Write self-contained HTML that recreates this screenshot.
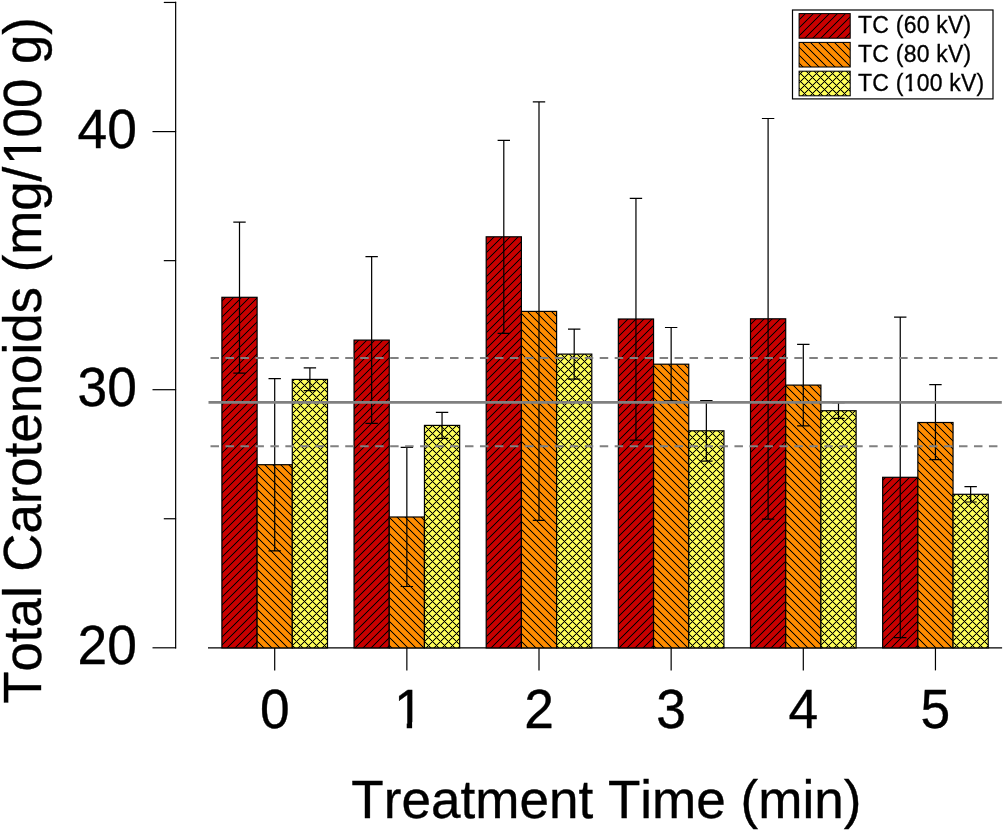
<!DOCTYPE html>
<html lang="en"><head><meta charset="utf-8"><title>Total Carotenoids</title>
<style>html,body{margin:0;padding:0;background:#fff}svg{display:block}text{font-kerning:none;font-family:"Liberation Sans",Arial,sans-serif;fill:#000}</style></head><body>
<svg width="1004" height="831" viewBox="0 0 1004 831">
<defs>
<pattern id="pr" width="8" height="8" patternUnits="userSpaceOnUse"><rect width="8" height="8" fill="#c80000"/><path d="M-1 4L4 -1M2 9L9 2" stroke="#000" stroke-width="1.5" stroke-opacity="0.35" fill="none"/><g fill="#000" shape-rendering="crispEdges"><rect x="2" y="0" width="1" height="1"/><rect x="1" y="1" width="1" height="1"/><rect x="0" y="2" width="1" height="1"/><rect x="7" y="3" width="1" height="1"/><rect x="6" y="4" width="1" height="1"/><rect x="5" y="5" width="1" height="1"/><rect x="4" y="6" width="1" height="1"/><rect x="3" y="7" width="1" height="1"/></g></pattern>
<pattern id="po" width="8" height="8" patternUnits="userSpaceOnUse"><rect width="8" height="8" fill="#ff8c00"/><path d="M-1 -1L9 9M7 -1L9 1M-1 7L1 9" stroke="#000" stroke-width="1.5" stroke-opacity="0.35" fill="none"/><g fill="#000" shape-rendering="crispEdges"><rect x="0" y="0" width="1" height="1"/><rect x="1" y="1" width="1" height="1"/><rect x="2" y="2" width="1" height="1"/><rect x="3" y="3" width="1" height="1"/><rect x="4" y="4" width="1" height="1"/><rect x="5" y="5" width="1" height="1"/><rect x="6" y="6" width="1" height="1"/><rect x="7" y="7" width="1" height="1"/></g></pattern>
<pattern id="py" width="8" height="8" patternUnits="userSpaceOnUse"><rect width="8" height="8" fill="#ffff5a"/><path d="M-1 3L3 -1M1 9L9 1M-1 0L8 9M6 -1L9 2" stroke="#000" stroke-width="1.5" stroke-opacity="0.35" fill="none"/><g fill="#000" shape-rendering="crispEdges"><rect x="1" y="0" width="1" height="1"/><rect x="7" y="0" width="1" height="1"/><rect x="0" y="1" width="1" height="1"/><rect x="1" y="2" width="1" height="1"/><rect x="7" y="2" width="1" height="1"/><rect x="2" y="3" width="1" height="1"/><rect x="6" y="3" width="1" height="1"/><rect x="3" y="4" width="1" height="1"/><rect x="5" y="4" width="1" height="1"/><rect x="4" y="5" width="1" height="1"/><rect x="3" y="6" width="1" height="1"/><rect x="5" y="6" width="1" height="1"/><rect x="2" y="7" width="1" height="1"/><rect x="6" y="7" width="1" height="1"/></g></pattern>
</defs>
<rect width="1004" height="831" fill="#fff"/>
<g stroke="#000" stroke-width="1.2" fill="none">
<path d="M175.65 1.8V648.50"/>
<path d="M152.5 131.6H176.1"/>
<path d="M152.5 389.7H176.1"/>
<path d="M152.5 647.8H176.1"/>
<path d="M163.8 2.45H176.1"/>
<path d="M163.8 260.65H176.1"/>
<path d="M163.8 518.75H176.1"/>
<path d="M208 647.9H1002.1"/>
<path d="M274.70 647.9V670.4"/>
<path d="M406.85 647.9V670.4"/>
<path d="M539.00 647.9V670.4"/>
<path d="M671.15 647.9V670.4"/>
<path d="M803.30 647.9V670.4"/>
<path d="M935.45 647.9V670.4"/>
</g>
<g stroke="#000" stroke-width="1.2">
<rect x="221.90" y="297.3" width="35.2" height="350.60" fill="url(#pr)"/>
<rect x="257.10" y="464.7" width="35.2" height="183.20" fill="url(#po)"/>
<rect x="292.30" y="379.4" width="35.2" height="268.50" fill="url(#py)"/>
<rect x="354.05" y="340.1" width="35.2" height="307.80" fill="url(#pr)"/>
<rect x="389.25" y="517.0" width="35.2" height="130.90" fill="url(#po)"/>
<rect x="424.45" y="425.4" width="35.2" height="222.50" fill="url(#py)"/>
<rect x="486.20" y="236.8" width="35.2" height="411.10" fill="url(#pr)"/>
<rect x="521.40" y="311.4" width="35.2" height="336.50" fill="url(#po)"/>
<rect x="556.60" y="354.1" width="35.2" height="293.80" fill="url(#py)"/>
<rect x="618.35" y="319.0" width="35.2" height="328.90" fill="url(#pr)"/>
<rect x="653.55" y="364.2" width="35.2" height="283.70" fill="url(#po)"/>
<rect x="688.75" y="430.8" width="35.2" height="217.10" fill="url(#py)"/>
<rect x="750.50" y="318.8" width="35.2" height="329.10" fill="url(#pr)"/>
<rect x="785.70" y="385.1" width="35.2" height="262.80" fill="url(#po)"/>
<rect x="820.90" y="410.7" width="35.2" height="237.20" fill="url(#py)"/>
<rect x="882.65" y="477.3" width="35.2" height="170.60" fill="url(#pr)"/>
<rect x="917.85" y="422.5" width="35.2" height="225.40" fill="url(#po)"/>
<rect x="953.05" y="494.3" width="35.2" height="153.60" fill="url(#py)"/>
</g>
<g stroke="#000" stroke-width="1.22" fill="none">
<path d="M239.50 222.1V373.2M233.30 222.1H245.70M233.30 373.2H245.70"/>
<path d="M274.70 378.7V550.9M268.50 378.7H280.90M268.50 550.9H280.90"/>
<path d="M309.90 367.8V390.6M303.70 367.8H316.10M303.70 390.6H316.10"/>
<path d="M371.65 256.7V423.4M365.45 256.7H377.85M365.45 423.4H377.85"/>
<path d="M406.85 447.3V586.5M400.65 447.3H413.05M400.65 586.5H413.05"/>
<path d="M442.05 412.3V438.3M435.85 412.3H448.25M435.85 438.3H448.25"/>
<path d="M503.80 140.3V333.3M497.60 140.3H510.00M497.60 333.3H510.00"/>
<path d="M539.00 101.9V520.4M532.80 101.9H545.20M532.80 520.4H545.20"/>
<path d="M574.20 329.2V379.1M568.00 329.2H580.40M568.00 379.1H580.40"/>
<path d="M635.95 198.3V440.1M629.75 198.3H642.15M629.75 440.1H642.15"/>
<path d="M671.15 327.5V400.9M664.95 327.5H677.35M664.95 400.9H677.35"/>
<path d="M706.35 400.6V461.2M700.15 400.6H712.55M700.15 461.2H712.55"/>
<path d="M768.10 118.5V519.1M761.90 118.5H774.30M761.90 519.1H774.30"/>
<path d="M803.30 344.4V425.8M797.10 344.4H809.50M797.10 425.8H809.50"/>
<path d="M838.50 402.7V418.3M832.30 402.7H844.70M832.30 418.3H844.70"/>
<path d="M900.25 317.1V637.6M894.05 317.1H906.45M894.05 637.6H906.45"/>
<path d="M935.45 384.6V459.6M929.25 384.6H941.65M929.25 459.6H941.65"/>
<path d="M970.65 486.6V502.0M964.45 486.6H976.85M964.45 502.0H976.85"/>
</g>
<path d="M208.5 402.35H1001.8" stroke="#808080" stroke-width="2.67" fill="none"/>
<path d="M210.5 357.9H1001" stroke="#808080" stroke-width="2" stroke-dasharray="8.5 6.47" fill="none"/>
<path d="M210.5 446.3H1001" stroke="#808080" stroke-width="2" stroke-dasharray="8.5 6.47" fill="none"/>
<g font-size="53.33px" stroke="#000" stroke-width="0.35">
<text transform="translate(136.8 147.7) scale(1 1.04)" text-anchor="end">40</text>
<text transform="translate(136.8 405.8) scale(1 1.04)" text-anchor="end">30</text>
<text transform="translate(136.8 663.9) scale(1 1.04)" text-anchor="end">20</text>
<text transform="translate(274.80 727.6) scale(1 1.04)" text-anchor="middle">0</text>
<text transform="translate(408.72 727.6) scale(1 1.04)" text-anchor="middle">1</text>
<path d="M394.92 722.3h11.80v7h-11.80zM412.12 722.3h12v7h-12z" fill="#fff" stroke="none"/>
<text transform="translate(539.04 727.6) scale(1 1.04)" text-anchor="middle">2</text>
<text transform="translate(671.16 727.6) scale(1 1.04)" text-anchor="middle">3</text>
<text transform="translate(803.28 727.6) scale(1 1.04)" text-anchor="middle">4</text>
<text transform="translate(935.40 727.6) scale(1 1.04)" text-anchor="middle">5</text>
<text x="606.4" y="817.6" text-anchor="middle" font-size="53.07px">Treatment Time (min)</text>
<text transform="translate(41.0 360.4) rotate(-90)" text-anchor="middle" font-size="52.8px">Total Carotenoids (mg/<tspan dx="1.8">1</tspan><tspan dx="-1.8">0</tspan>0 g)</text>
<path d="M35.5 136.5h7v10.35h-7zM35.5 152.1h7v11h-7z" fill="#fff" stroke="none"/>
</g>
<rect x="792.5" y="10" width="200.5" height="88.9" fill="#fff" stroke="#000" stroke-width="1.2"/>
<rect x="799.1" y="13.6" width="51.1" height="24.6" fill="url(#pr)" stroke="#000" stroke-width="1.05"/>
<text transform="translate(858.0 33.0) scale(1 1.03)" font-size="23px" letter-spacing="0.24" stroke="#000" stroke-width="0.3">TC (60 kV)</text>
<rect x="799.1" y="42.4" width="51.1" height="24.6" fill="url(#po)" stroke="#000" stroke-width="1.05"/>
<text transform="translate(858.0 62.1) scale(1 1.03)" font-size="23px" letter-spacing="0.24" stroke="#000" stroke-width="0.3">TC (80 kV)</text>
<rect x="799.1" y="71.2" width="51.1" height="24.6" fill="url(#py)" stroke="#000" stroke-width="1.05"/>
<text transform="translate(858.0 91.0) scale(1 1.03)" font-size="23px" letter-spacing="0.24" stroke="#000" stroke-width="0.3">TC (100 kV)</text>
<path d="M904.3 88.5h4.4v3.6h-4.4zM912.2 88.5h4.6v3.6h-4.6z" fill="#fff" stroke="none"/>
</svg></body></html>
